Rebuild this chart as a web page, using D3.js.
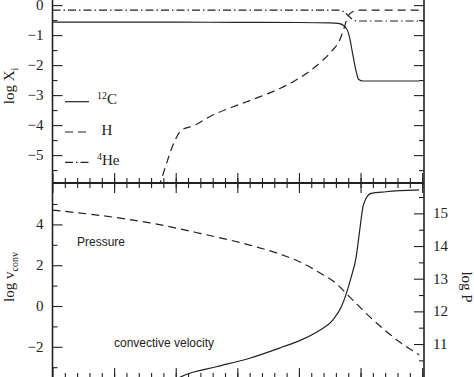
<!DOCTYPE html>
<html>
<head>
<meta charset="utf-8">
<script src="https://cdn.jsdelivr.net/npm/d3@7"></script>
<style>
  body { margin: 0; background: #fff; }
  svg { display: block; }
  .num { font-family: "Liberation Serif", "DejaVu Serif", serif; font-size: 15px; fill: #222; }
  .note { font-family: "Liberation Sans", Arial, sans-serif; font-size: 12px; fill: #222; }
</style>
</head>
<body>
<svg id="chart" width="474" height="377"></svg>
<script>
// abundances, top panel (x in panel units, value = log X)
const carbonX = [0, 1, 2, 3, 4, 4.5, 4.66, 4.77, 4.82, 4.87, 4.93, 4.97, 5.04, 5.15, 5.95];
const carbonY = [-0.57, -0.57, -0.57, -0.575, -0.58, -0.59, -0.62, -0.78, -1.06, -1.6, -2.22, -2.48, -2.53, -2.53, -2.53];
const hydrogenX = [1.72, 1.8, 1.99, 2.09, 2.28, 2.55, 2.93, 3.36, 3.69, 3.9, 4.16, 4.36, 4.52, 4.66, 4.74, 4.79, 4.87, 4.98, 6.03];
const hydrogenY = [-6.1, -5.6, -4.5, -4.17, -4.03, -3.72, -3.39, -3.06, -2.78, -2.56, -2.22, -1.89, -1.56, -1.17, -0.72, -0.39, -0.22, -0.17, -0.17];
const heliumX = [0, 2, 4, 4.66, 4.74, 4.82, 4.87, 4.95, 5.1, 6.03];
const heliumY = [-0.17, -0.17, -0.17, -0.17, -0.24, -0.39, -0.48, -0.53, -0.53, -0.53];

// bottom panel
const pressX = [0, 1, 1.58, 2.39, 3.2, 3.74, 4.01, 4.33, 4.6, 4.82, 5.09, 5.36, 5.63, 5.95];
const pressY = [15.1, 14.88, 14.71, 14.39, 14.03, 13.72, 13.52, 13.19, 12.86, 12.45, 11.94, 11.48, 11.07, 10.67];
const velX = [2.0, 2.15, 2.66, 3.2, 3.74, 4.01, 4.33, 4.55, 4.69, 4.77, 4.85, 4.93, 4.98, 5.04, 5.09, 5.17, 5.41, 5.95];
const velY = [-3.6, -3.38, -2.98, -2.56, -2.0, -1.7, -1.2, -0.69, -0.03, 0.62, 1.44, 2.42, 3.56, 4.87, 5.28, 5.52, 5.6, 5.69];

const topTicks = [0, -1, -2, -3, -4, -5];
const velTicks = [4, 2, 0, -2];
const pressTicks = [11, 12, 13, 14, 15];

const legendItems = [
  { sup: "12", name: "C", dash: null },
  { sup: "", name: "H", dash: "8,5" },
  { sup: "4", name: "He", dash: "8,3,1.5,3" }
];

const svg = d3.select("#chart");
const L = 52.5, R = 424, MID = 183, BOT = 378;
const ink = "#222";

const x = d3.scaleLinear().domain([0, 6.03]).range([L, R]);
const yTop = d3.scaleLinear().domain([-5.93, 0.17]).range([MID, 0]);
const yV = d3.scaleLinear().domain([-3.53, 6.03]).range([BOT, MID]);
const yP = d3.scaleLinear().domain([9.96, 15.93]).range([BOT, MID]);

const defs = svg.append("defs");
defs.append("clipPath").attr("id", "clipTop").append("rect")
  .attr("x", L).attr("y", -2).attr("width", R - L).attr("height", MID + 2);
defs.append("clipPath").attr("id", "clipBot").append("rect")
  .attr("x", L).attr("y", MID).attr("width", R - L).attr("height", BOT - MID);

function zip(xs, ys) { return xs.map((v, i) => [v, ys[i]]); }

// ticks
function minors(lo, hi, step) { return d3.range(lo, hi + 1e-9, step); }
function axisStyle(g) {
  g.select(".domain").remove();
  g.selectAll("line").attr("stroke", ink).attr("stroke-width", 1.1);
}
function xAxes(gen, y) {
  const g = svg.append("g").attr("transform", `translate(0,${y})`);
  g.append("g").call(gen(x).tickValues(minors(0, 6, 1)).tickSize(-10).tickFormat("")).call(axisStyle);
  g.append("g").call(gen(x).tickValues(minors(0.2, 6, 0.2)).tickSize(-5).tickFormat("")).call(axisStyle);
}
xAxes(d3.axisBottom, MID);
xAxes(d3.axisTop, MID);
xAxes(d3.axisBottom, BOT);

function yAxis(scale, gen, xpos, majors, minorVals, labels) {
  const g = svg.append("g").attr("transform", `translate(${xpos},0)`);
  g.append("g").call(gen(scale).tickValues(majors).tickSize(-10).tickFormat("")).call(axisStyle);
  g.append("g").call(gen(scale).tickValues(minorVals).tickSize(-5).tickFormat("")).call(axisStyle);
  if (labels) {
    const left = gen === d3.axisLeft;
    g.selectAll("text.num").data(majors).join("text").attr("class", "num")
      .attr("x", left ? -9 : 9).attr("y", d => scale(d) + 5)
      .attr("text-anchor", left ? "end" : "start")
      .text(d => d < 0 ? "\u2212" + Math.abs(d) : d);
  }
}
yAxis(yTop, d3.axisLeft, L, topTicks, minors(-5.5, 0, 1), true);
yAxis(yTop, d3.axisRight, R, topTicks, minors(-5.5, 0, 1), false);
yAxis(yV, d3.axisLeft, L, velTicks, [5, 3, 1, -1, -3], true);
yAxis(yP, d3.axisRight, R, pressTicks, [10.5, 11.5, 12.5, 13.5, 14.5, 15.5], true);

// frame
svg.append("rect").attr("x", L).attr("y", -2).attr("width", R - L).attr("height", BOT + 2)
  .attr("fill", "none").attr("stroke", ink).attr("stroke-width", 1.6);
svg.append("line").attr("x1", L).attr("x2", R).attr("y1", MID).attr("y2", MID)
  .attr("stroke", ink).attr("stroke-width", 2);

// curves
function curve(clip, ys, pts, dash) {
  svg.append("path").attr("clip-path", `url(#${clip})`)
    .attr("d", d3.line().x(d => x(d[0])).y(d => ys(d[1])).curve(d3.curveMonotoneX)(pts))
    .attr("fill", "none").attr("stroke", ink).attr("stroke-width", 1.2)
    .attr("stroke-dasharray", dash);
}
curve("clipTop", yTop, zip(carbonX, carbonY), null);
curve("clipTop", yTop, zip(hydrogenX, hydrogenY), "8,5");
curve("clipTop", yTop, zip(heliumX, heliumY), "8,3,1.5,3");
curve("clipBot", yP, zip(pressX, pressY), "8,5");
curve("clipBot", yV, zip(velX, velY), null);

// legend
const leg = svg.append("g");
legendItems.forEach((it, i) => {
  const ly = 101.7 + i * 30.3;
  leg.append("line").attr("x1", 65).attr("x2", 89).attr("y1", ly).attr("y2", ly)
    .attr("stroke", ink).attr("stroke-width", 1.2).attr("stroke-dasharray", it.dash);
  const t = leg.append("text").attr("class", "num").attr("x", it.sup ? 97 : 101.5).attr("y", ly + 2.5);
  if (it.sup) t.append("tspan").attr("font-size", "10px").attr("dy", -5).text(it.sup);
  t.append("tspan").attr("dy", it.sup ? 5 : 0).text(it.name);
});

// axis titles
const t1 = svg.append("text").attr("class", "num").attr("text-anchor", "middle")
  .attr("transform", "translate(14,86) rotate(-90)");
t1.append("tspan").text("log X");
t1.append("tspan").attr("font-size", "10px").attr("dy", 4).text("i");

const t2 = svg.append("text").attr("class", "num").attr("text-anchor", "middle")
  .attr("transform", "translate(14,277) rotate(-90)");
t2.append("tspan").text("log v");
t2.append("tspan").attr("font-size", "10px").attr("dy", 4).text("conv");

svg.append("text").attr("class", "num").attr("text-anchor", "middle")
  .attr("transform", "translate(462,287) rotate(90)").text("log P");

svg.append("text").attr("class", "note").attr("x", 77).attr("y", 246).text("Pressure");
svg.append("text").attr("class", "note").attr("x", 114).attr("y", 347).text("convective velocity");
</script>
</body>
</html>
